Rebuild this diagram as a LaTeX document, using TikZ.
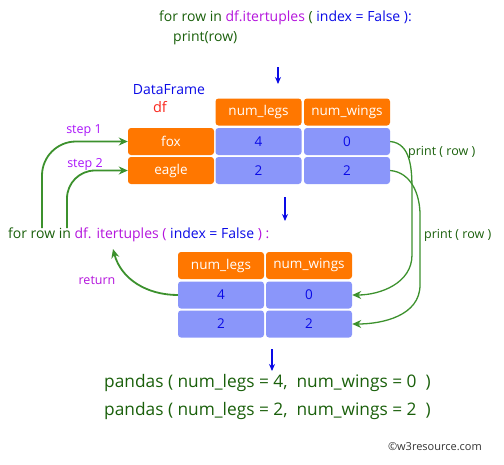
\documentclass[tikz,border=0pt]{standalone}
\usepackage{fontspec}
\setmainfont{Open Sans}
\usetikzlibrary{arrows.meta, positioning}
\definecolor{cellorange}{RGB}{255,119,0}
\definecolor{cellblue}{RGB}{138,150,250}
\definecolor{txtblue}{RGB}{10,10,230}
\definecolor{codegreen}{RGB}{25,95,10}
\definecolor{codemag}{RGB}{180,20,220}
\definecolor{stepviolet}{RGB}{170,20,250}
\definecolor{arrowgreen}{RGB}{60,145,45}
\definecolor{dfred}{RGB}{250,40,30}

\begin{document}
\begin{tikzpicture}[x=1pt, y=-1pt,
    hdr/.style={rectangle, rounded corners=3pt, fill=cellorange, text=white, minimum width=86pt, minimum height=27pt, inner sep=0pt, font=\fontsize{13.5}{15}\selectfont},
    val/.style={rectangle, rounded corners=3pt, fill=cellblue, text=txtblue, minimum width=86pt, minimum height=27pt, inner sep=0pt, font=\fontsize{13.5}{15}\selectfont},
    code/.style={anchor=west, inner sep=0pt, font=\fontsize{14}{16}\selectfont},
    flow/.style={-{Stealth[length=9pt, width=8pt]}, arrowgreen, line width=1.8pt},
    flowthin/.style={-{Stealth[length=9pt, width=8pt]}, arrowgreen, line width=1.3pt},
    down/.style={-{Stealth[length=7pt, width=6pt]}, txtblue, line width=1.5pt}
]
\useasboundingbox (0,0) rectangle (504,464);

% code on top
\node[code] (loophead) at (159,18) {\color{codegreen}for row in \color{codemag}df.itertuples \color{codegreen}( \color{txtblue}index = False ):};
\node[code, text=codegreen] (printrow) at (173,38) {print(row)};

% upper table
\node[txtblue, font=\fontsize{14}{16}\selectfont] (dfname) at (169,90) {DataFrame};
\node[dfred, font=\fontsize{14.5}{16}\selectfont] (dflabel) at (160,107) {df};
\node[hdr] (h1) at (258.5,112) {num\_legs};
\node[hdr] (h2) at (347,112) {num\_wings};
\node[hdr] (fox) at (171,141.5) {fox};
\node[hdr] (eagle) at (171,170.5) {eagle};
\node[val] (a1) at (258.5,141.5) {4};
\node[val] (a2) at (347,141.5) {0};
\node[val] (b1) at (258.5,170.5) {2};
\node[val] (b2) at (347,170.5) {2};

% loop line in the middle
\node[code] (loop) at (8,235) {\color{codegreen}for row in \color{codemag}df. itertuples ( \color{txtblue}index = False \color{codemag}) :};

% lower table
\node[hdr] (lh1) at (221,265.5) {num\_legs};
\node[hdr] (lh2) at (309,265.5) {num\_wings};
\node[val] (la1) at (221,295) {4};
\node[val] (la2) at (309,295) {0};
\node[val] (lb1) at (221,324) {2};
\node[val] (lb2) at (309,324) {2};

% result lines
\node[code, text=codegreen, font=\fontsize{17.3}{20}\selectfont] (res1) at (104,383) {pandas ( num\_legs = 4,\ \ num\_wings = 0\ \ )};
\node[code, text=codegreen, font=\fontsize{17.3}{20}\selectfont] (res2) at (104,411) {pandas ( num\_legs = 2,\ \ num\_wings = 2\ \ )};
\node[anchor=east, inner sep=0pt, font=\fontsize{11}{13}\selectfont, text=black!80] (mark) at (482,447) {\textcopyright w3resource.com};

% labels
\node[stepviolet, font=\fontsize{12.5}{14}\selectfont] (step1) at (84,131) {step 1};
\node[stepviolet, font=\fontsize{12.5}{14}\selectfont] (step2) at (85,164) {step 2};
\node[codemag, font=\fontsize{12.5}{14}\selectfont] (ret) at (97,280) {return};
\node[anchor=west, inner sep=0pt, codegreen, font=\fontsize{12.5}{14}\selectfont] (pr1) at (408,152) {print ( row )};
\node[anchor=west, inner sep=0pt, codegreen, font=\fontsize{12.5}{14}\selectfont] (pr2) at (424,235) {print ( row )};

% free ends
\coordinate (s1) at (42,228);
\coordinate (s2) at (67,228);
\coordinate (back) at (113,249);
\coordinate (d1a) at (278,67);
\coordinate (d1b) at (278,84);
\coordinate (d2a) at (285,197);
\coordinate (d2b) at (285,221);
\coordinate (d3a) at (272,349);
\coordinate (d3b) at (272,371);

% arrows
\draw[down] (d1a) -- (d1b);
\draw[down] (d2a) -- (d2b);
\draw[down] (d3a) -- (d3b);
\draw[flow, rounded corners=34pt] (s1) |- (fox.west);
\draw[flow, rounded corners=28pt] (s2) |- (eagle.west);
\draw[flow] (la1.west) to[out=180, in=-75] (back);
\draw[flowthin] (a2.east) to[out=-5, in=90] (412,190) -- (412,255) to[out=-90, in=0] (la2.east);
\draw[flowthin] (b2.east) to[out=-5, in=90] (420,215) -- (420,285) to[out=-90, in=0] (lb2.east);
\end{tikzpicture}
\end{document}
